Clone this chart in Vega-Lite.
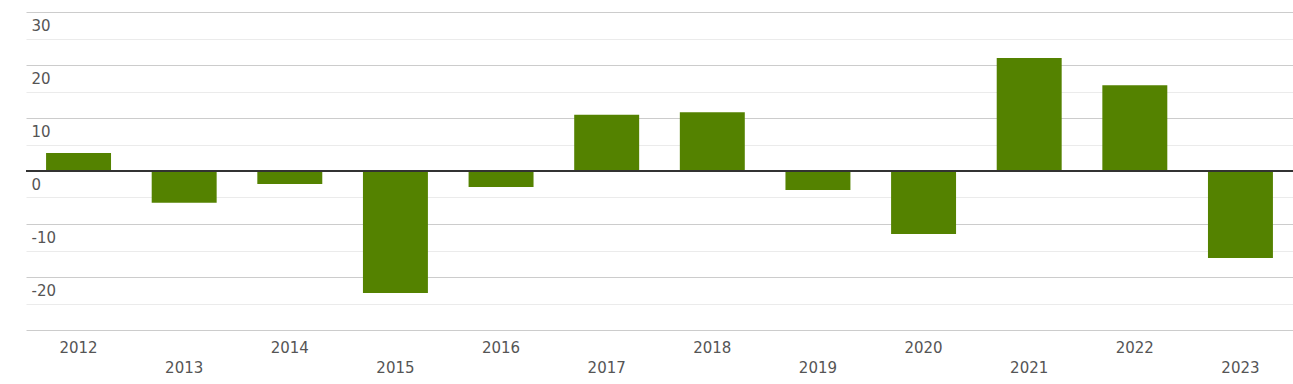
{
  "$schema": "https://vega.github.io/schema/vega-lite/v6.json",
  "width": 1267,
  "height": 318,
  "autosize": {"type": "none"},
  "padding": {"left": 26, "top": 12, "right": 0, "bottom": 54},
  "config": {
    "view": {"stroke": null},
    "font": "DejaVu Sans",
    "axis": {"labelFont": "DejaVu Sans", "labelFontSize": 15, "labelColor": "#555555", "ticks": false, "domain": false, "title": null}
  },
  "data": {
    "values": [
      {"year": "2012", "value": 3.4},
      {"year": "2013", "value": -6.0},
      {"year": "2014", "value": -2.45},
      {"year": "2015", "value": -23.0},
      {"year": "2016", "value": -3.0},
      {"year": "2017", "value": 10.6},
      {"year": "2018", "value": 11.1},
      {"year": "2019", "value": -3.6},
      {"year": "2020", "value": -11.9},
      {"year": "2021", "value": 21.3},
      {"year": "2022", "value": 16.2},
      {"year": "2023", "value": -16.4}
    ]
  },
  "layer": [
    {
      "mark": {"type": "bar", "opacity": 0},
      "encoding": {
        "x": {"field": "year", "type": "ordinal", "scale": {"paddingInner": 0.385, "paddingOuter": 0.19},
          "axis": {"orient": "bottom", "labelAngle": 0, "labelPadding": 30, "grid": false, "values": ["2013", "2015", "2017", "2019", "2021", "2023"]}},
        "y": {"field": "value", "type": "quantitative", "scale": {"domain": [-30, 30], "nice": false},
          "axis": {"orient": "left", "values": [-25, -15, -5, 5, 15, 25], "labels": false, "grid": true, "gridColor": "#ebebeb", "gridWidth": 1}}
      }
    },
    {
      "mark": {"type": "bar", "color": "#548200"},
      "encoding": {
        "x": {"field": "year", "type": "ordinal", "scale": {"paddingInner": 0.385, "paddingOuter": 0.19},
          "axis": {"orient": "bottom", "labelAngle": 0, "labelPadding": 10, "grid": false, "domain": true, "domainColor": "#cccccc", "values": ["2012", "2014", "2016", "2018", "2020", "2022"]}},
        "y": {"field": "value", "type": "quantitative", "scale": {"domain": [-30, 30], "nice": false},
          "axis": {"orient": "left", "values": [-20, -10, 0, 10, 20, 30], "grid": true, "gridColor": "#cccccc", "labelAlign": "left", "labelBaseline": "top", "labelPadding": -5, "labelOffset": 6, "labelExpr": "toString(datum.value)"}}
      }
    },
    {
      "mark": {"type": "rule", "color": "#333333", "strokeWidth": 1},
      "encoding": {"y": {"datum": 0, "type": "quantitative"}}
    }
  ],
  "resolve": {"axis": {"x": "independent", "y": "independent"}}
}
